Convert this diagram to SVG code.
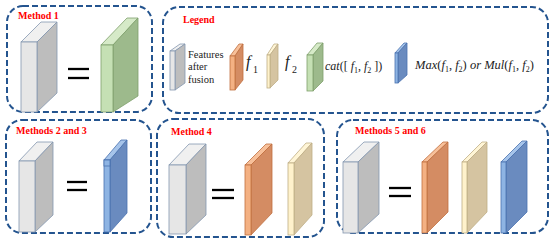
<svg xmlns="http://www.w3.org/2000/svg" width="550" height="245" viewBox="0 0 550 245">
<style>
.box{fill:none;stroke:#24548f;stroke-width:2;stroke-dasharray:6 3}
.lbl{font-family:'Liberation Serif','Times New Roman','DejaVu Serif',serif;font-weight:bold;font-size:10px;fill:#ff0000}
.txt{font-family:'Liberation Serif','Times New Roman','DejaVu Serif',serif;fill:#222}
.it{font-style:italic}
.eq{stroke:#000;stroke-width:2.3}
.gf{fill:#e6e6e6;stroke:#8497b0;stroke-width:0.8}
.gt{fill:#f0f0f0;stroke:#8497b0;stroke-width:0.8}
.gs{fill:#bdbdbd;stroke:#8497b0;stroke-width:0.8}
.nf{fill:#c5e0b4;stroke:#7fa06c;stroke-width:0.8}
.nt{fill:#d6eac8;stroke:#7fa06c;stroke-width:0.8}
.ns{fill:#9dba8c;stroke:#7fa06c;stroke-width:0.8}
.of{fill:#f4b183;stroke:#c07040;stroke-width:0.8}
.ot{fill:#f7c09a;stroke:#c07040;stroke-width:0.8}
.os{fill:#d48c63;stroke:#c07040;stroke-width:0.8}
.bf{fill:#fff2cc;stroke:#bfae86;stroke-width:0.8}
.bt{fill:#fff5d6;stroke:#bfae86;stroke-width:0.8}
.bs{fill:#d5c4a1;stroke:#bfae86;stroke-width:0.8}
.uf{fill:#8eb4e3;stroke:#4a72b0;stroke-width:0.8}
.ut{fill:#a6c4ea;stroke:#4a72b0;stroke-width:0.8}
.us{fill:#6a8bbf;stroke:#4a72b0;stroke-width:0.8}
</style>

<g id="method1">
<rect class="box" x="7" y="6" width="145" height="106" rx="16"/>
<text class="lbl" font-family="Liberation Serif, serif" x="18" y="19">Method 1</text>
<polygon class="gt" points="21,42 41,22 57,22 37,42"/>
<polygon class="gs" points="37,42 57,22 57,93 37,112"/>
<rect class="gf" x="21" y="42" width="16" height="70"/>
<line class="eq" x1="68" y1="69" x2="89" y2="69"/>
<line class="eq" x1="68" y1="78" x2="89" y2="78"/>
<polygon class="nt" points="101,45 127,18 138,18 113,45"/>
<polygon class="ns" points="113,45 138,18 138,96 113,112"/>
<rect class="nf" x="101" y="45" width="12" height="67"/>
</g>

<g id="legend">
<rect class="box" x="163" y="7" width="385" height="106" rx="16"/>
<text class="lbl" font-family="Liberation Serif, serif" x="183" y="23">Legend</text>
<polygon class="gt" points="170,51 180,44 185,44 175,51"/>
<polygon class="gs" points="175,51 185,44 185,83 175,90"/>
<rect class="gf" x="170" y="51" width="5" height="39"/>
<text class="txt" font-family="Liberation Serif, serif" font-size="10.5" x="188" y="58">Features</text>
<text class="txt" font-family="Liberation Serif, serif" font-size="10.5" x="188" y="70">after</text>
<text class="txt" font-family="Liberation Serif, serif" font-size="10.5" x="188" y="83">fusion</text>
<polygon class="ot" points="230,56 239,44 243,44 235,56"/>
<polygon class="os" points="235,56 243,44 243,80 235,90"/>
<rect class="of" x="230" y="56" width="5" height="34"/>
<text class="txt it" font-family="Liberation Serif, serif" font-size="16" x="246" y="67">f</text>
<text class="txt" font-family="Liberation Serif, serif" font-size="10" x="253" y="73">1</text>
<polygon class="bt" points="267,55 274,44 278,44 270,55"/>
<polygon class="bs" points="270,55 278,44 278,80 270,88"/>
<rect class="bf" x="267" y="55" width="3" height="33"/>
<text class="txt it" font-family="Liberation Serif, serif" font-size="16" x="285" y="67">f</text>
<text class="txt" font-family="Liberation Serif, serif" font-size="10" x="292" y="73">2</text>
<polygon class="nt" points="307,55 317,43 323,43 313,55"/>
<polygon class="ns" points="313,55 323,43 323,81 313,91"/>
<rect class="nf" x="307" y="55" width="6" height="36"/>
<text class="txt" font-family="Liberation Serif, serif" font-size="12" x="325" y="70"><tspan class="it">cat</tspan>([ <tspan class="it">f</tspan><tspan font-size="8" dy="2.5">1</tspan><tspan dy="-2.5">, </tspan><tspan class="it">f</tspan><tspan font-size="8" dy="2.5">2</tspan><tspan dy="-2.5"> ])</tspan></text>
<polygon class="ut" points="395,53 404,43 407,43 398,53"/>
<polygon class="us" points="398,53 407,43 407,75 398,83"/>
<rect class="uf" x="395" y="53" width="3" height="30"/>
<text class="txt" font-family="Liberation Serif, serif" font-size="12.5" x="415" y="69"><tspan class="it">Max</tspan>(<tspan class="it">f</tspan><tspan font-size="8" dy="2.5">1</tspan><tspan dy="-2.5">, </tspan><tspan class="it">f</tspan><tspan font-size="8" dy="2.5">2</tspan><tspan dy="-2.5">)  </tspan><tspan class="it">or Mul</tspan>(<tspan class="it">f</tspan><tspan font-size="8" dy="2.5">1</tspan><tspan dy="-2.5">, </tspan><tspan class="it">f</tspan><tspan font-size="8" dy="2.5">2</tspan><tspan dy="-2.5">)</tspan></text>
</g>

<g id="methods23">
<rect class="box" x="6" y="120" width="145" height="113" rx="16"/>
<text class="lbl" font-family="Liberation Serif, serif" x="16" y="134">Methods 2 and 3</text>
<polygon class="gt" points="19,161 37,142 53,142 35,161"/>
<polygon class="gs" points="35,161 53,142 53,215 35,232"/>
<rect class="gf" x="19" y="161" width="16" height="71"/>
<line class="eq" x1="67" y1="182" x2="87" y2="182"/>
<line class="eq" x1="67" y1="190" x2="87" y2="190"/>
<polygon class="ut" points="104,160 121,140 127,140 110,160"/>
<polygon class="us" points="110,160 127,140 127,213 110,232"/>
<rect class="uf" x="104" y="160" width="6" height="72"/>
<rect class="uf" x="104" y="160" width="6" height="6"/>
</g>

<g id="method4">
<rect class="box" x="157" y="119" width="167" height="118" rx="16"/>
<text class="lbl" font-family="Liberation Serif, serif" x="171" y="135">Method 4</text>
<polygon class="gt" points="169,165 189,144 206,144 186,165"/>
<polygon class="gs" points="186,165 206,144 206,215 186,234"/>
<rect class="gf" x="169" y="165" width="17" height="69"/>
<line class="eq" x1="212" y1="190" x2="234" y2="190"/>
<line class="eq" x1="212" y1="198" x2="234" y2="198"/>
<polygon class="ot" points="245,165 266,144 272,144 251,165"/>
<polygon class="os" points="251,165 272,144 272,213 251,235"/>
<rect class="of" x="245" y="165" width="6" height="70"/>
<polygon class="bt" points="288,163 306,143 312,143 294,163"/>
<polygon class="bs" points="294,163 312,143 312,215 294,235"/>
<rect class="bf" x="288" y="163" width="6" height="72"/>
</g>

<g id="methods56">
<rect class="box" x="337" y="120" width="211" height="113" rx="16"/>
<text class="lbl" font-family="Liberation Serif, serif" x="355" y="134">Methods 5 and 6</text>
<polygon class="gt" points="343,162 364,142 379,142 358,162"/>
<polygon class="gs" points="358,162 379,142 379,214 358,233"/>
<rect class="gf" x="343" y="162" width="15" height="71"/>
<line class="eq" x1="389" y1="188" x2="411" y2="188"/>
<line class="eq" x1="389" y1="196" x2="411" y2="196"/>
<polygon class="ot" points="422,162 443,142 448,142 427,162"/>
<polygon class="os" points="427,162 448,142 448,212 427,233"/>
<rect class="of" x="422" y="162" width="5" height="71"/>
<polygon class="bt" points="462,162 482,142 487,142 467,162"/>
<polygon class="bs" points="467,162 487,142 487,212 467,233"/>
<rect class="bf" x="462" y="162" width="5" height="71"/>
<polygon class="ut" points="501,162 522,141 527,141 506,162"/>
<polygon class="us" points="506,162 527,141 527,212 506,233"/>
<rect class="uf" x="501" y="162" width="5" height="71"/>
</g>

<g id="connectors"></g>
</svg>
